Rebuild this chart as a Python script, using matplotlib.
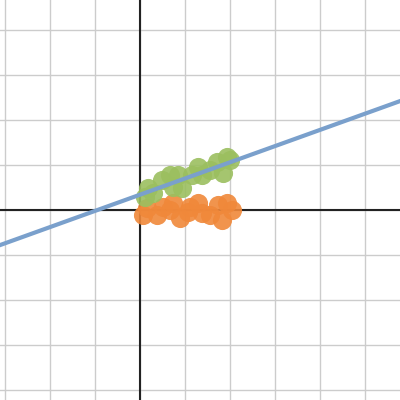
import matplotlib
matplotlib.use("Agg")
import matplotlib.pyplot as plt
import numpy as np

green_x = [0.18, 0.11, 0.29, 0.49, 0.67, 0.84, 0.73, 0.93, 1.16, 1.29, 1.38, 1.56, 1.71, 1.84, 1.93, 2.00]
green_y = [0.49, 0.29, 0.38, 0.67, 0.78, 0.78, 0.51, 0.49, 0.78, 0.96, 0.78, 0.89, 1.07, 0.82, 1.18, 1.11]
orange_x = [0.16, 0.07, 0.38, 0.51, 0.67, 0.73, 0.89, 1.07, 1.11, 1.29, 1.38, 1.56, 1.73, 1.82, 1.93, 2.04]
orange_y = [0.04, -0.11, -0.11, 0.07, 0.00, 0.16, -0.18, -0.04, 0.07, 0.16, -0.07, -0.11, 0.11, -0.22, 0.16, 0.00]
slope, intercept = 0.36, 0.34

xmin, xmax = -140 / 45, 260 / 45
ymin, ymax = -190 / 45, 210 / 45

fig = plt.figure(figsize=(4, 4), dpi=100)
ax = fig.add_axes([0, 0, 1, 1])
ax.set_xlim(xmin, xmax)
ax.set_ylim(ymin, ymax)

for v in range(-3, 6):
    ax.axvline(v, color="#cccccc", lw=1, zorder=0)
for v in range(-4, 5):
    ax.axhline(v, color="#cccccc", lw=1, zorder=0)
ax.axhline(0, color="#222222", lw=1.5, zorder=1)
ax.axvline(0, color="#222222", lw=1.5, zorder=1)

ax.scatter(orange_x, orange_y, s=190, color="#f0883a", alpha=0.9, lw=0, zorder=2)
ax.scatter(green_x, green_y, s=190, color="#9bbf5f", alpha=0.9, lw=0, zorder=2)

xs = np.array([xmin, xmax])
ax.plot(xs, slope * xs + intercept, color="#7aa0cc", lw=3, zorder=3)

ax.set_xticks([])
ax.set_yticks([])
for s in ax.spines.values():
    s.set_visible(False)

plt.savefig("out.png", dpi=100)
plt.close()
